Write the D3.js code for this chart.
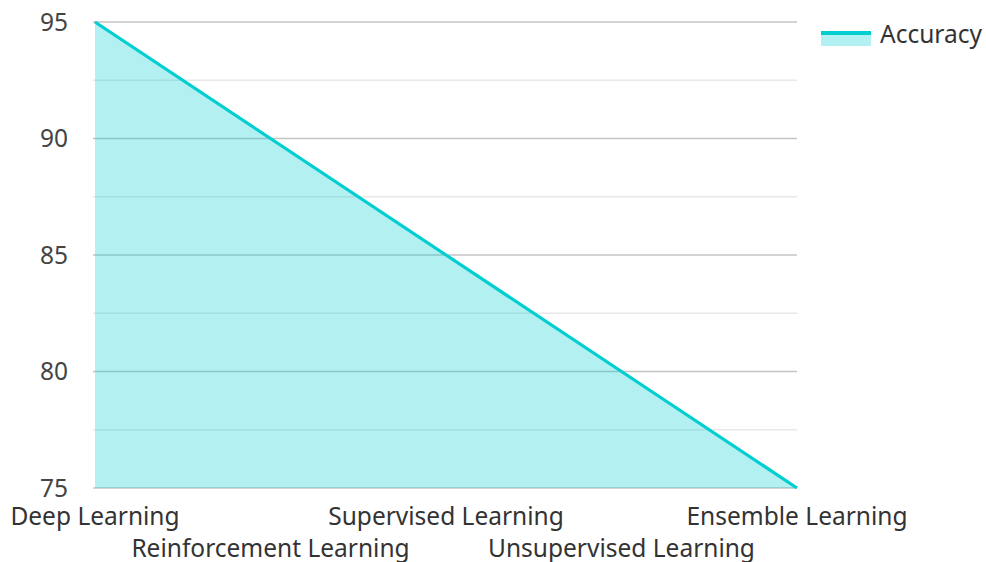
<!DOCTYPE html>
<html>
<head>
<meta charset="utf-8">
<script src="https://cdn.jsdelivr.net/npm/d3@7"></script>
<style>
html,body{margin:0;padding:0;background:#fff;}
svg{display:block;font-family:"Noto Sans",sans-serif;}
</style>
</head>
<body>
<svg id="chart" width="986" height="562"></svg>
<script>
const categories = ["Deep Learning","Reinforcement Learning","Supervised Learning","Unsupervised Learning","Ensemble Learning"];
const accuracy = [95, 90, 85, 80, 75];
const yTicks = [75, 80, 85, 90, 95];
const yMinorTicks = [77.5, 82.5, 87.5, 92.5];
const seriesName = "Accuracy";

(function () {
const svg = d3.select("#chart");
const mLeft = 95, mRight = 797, mTop = 22, mBottom = 488;

const x = d3.scalePoint().domain(categories).range([mLeft, mRight]);
const y = d3.scaleLinear().domain([75, 95]).range([mBottom, mTop]);

const lineColor = "#00CED1";
const fs = 24.5;

// gridlines
svg.append("g").selectAll("line").data(yMinorTicks).join("line")
  .attr("x1", mLeft - 2).attr("x2", mRight)
  .attr("y1", d => y(d)).attr("y2", d => y(d))
  .attr("stroke", "#e8e8e8").attr("stroke-width", 1.5);
svg.append("g").selectAll("line").data(yTicks).join("line")
  .attr("x1", mLeft - 2).attr("x2", mRight)
  .attr("y1", d => y(d)).attr("y2", d => y(d))
  .attr("stroke", "#c4c4c4").attr("stroke-width", 1.5);

const data = categories.map((c, i) => ({c, v: accuracy[i]}));

svg.append("path").datum(data)
  .attr("d", d3.area().x(d => x(d.c)).y0(y(75)).y1(d => y(d.v)))
  .attr("fill", lineColor).attr("fill-opacity", 0.3);

svg.append("path").datum(data)
  .attr("d", d3.line().x(d => x(d.c)).y(d => y(d.v)))
  .attr("fill", "none").attr("stroke", lineColor).attr("stroke-width", 3.2);

// y axis labels
svg.append("g").selectAll("text").data(yTicks).join("text")
  .attr("x", 68).attr("y", d => y(d)).attr("dy", "0.35em")
  .attr("text-anchor", "end").attr("font-size", fs).attr("fill", "#444")
  .text(d => d);

// x axis labels (staggered)
svg.append("g").selectAll("text").data(categories).join("text")
  .attr("x", d => x(d)).attr("y", (d, i) => i % 2 === 0 ? 525 : 557)
  .attr("text-anchor", "middle").attr("font-size", fs).attr("fill", "#333")
  .text(d => d);

// legend
const lg = svg.append("g");
lg.append("rect").attr("x", 821).attr("y", 33).attr("width", 50).attr("height", 13)
  .attr("fill", lineColor).attr("fill-opacity", 0.3);
lg.append("line").attr("x1", 821).attr("x2", 871).attr("y1", 33).attr("y2", 33)
  .attr("stroke", lineColor).attr("stroke-width", 4);
lg.append("text").attr("x", 880).attr("y", 34).attr("dy", "0.35em")
  .attr("font-size", fs).attr("fill", "#333").text(seriesName);
})();
</script>
</body>
</html>
